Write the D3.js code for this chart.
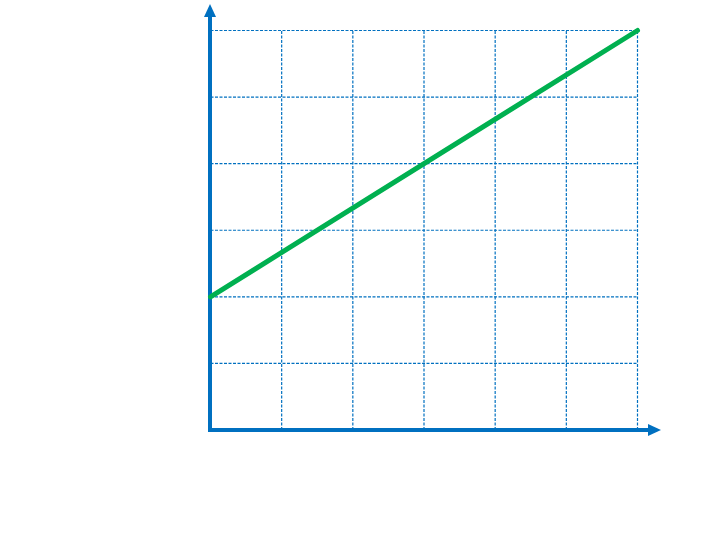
<!DOCTYPE html>
<html>
<head>
<meta charset="utf-8">
<script src="https://cdn.jsdelivr.net/npm/d3@7"></script>
<style>
  body { margin: 0; background: #fff; }
</style>
</head>
<body>
<svg id="chart" width="720" height="540"></svg>
<script>
// grid steps on each axis
const xTicks = [0, 1, 2, 3, 4, 5, 6]
const yTicks = [0, 1, 2, 3, 4, 5, 6]
// the green line
const lineX = [0, 6]
const lineY = [2, 6]

const blue = "#0070C0"
const green = "#00B050"

const svg = d3.select("#chart")

const x = d3.scaleLinear().domain([0, 6]).range([210.5, 637.5])
const y = d3.scaleLinear().domain([0, 6]).range([430, 30.5])

// dashed grid
const grid = svg.append("g")
grid.selectAll(".vgrid")
  .data(xTicks.slice(1))
  .enter()
  .append("line")
  .attr("class", "vgrid")
  .attr("x1", d => x(d)).attr("x2", d => x(d))
  .attr("y1", y(0)).attr("y2", y(6))
  .attr("stroke", blue)
  .attr("stroke-width", 1.2)
  .attr("stroke-dasharray", "3,1.5")

grid.selectAll(".hgrid")
  .data(yTicks.slice(1))
  .enter()
  .append("line")
  .attr("class", "hgrid")
  .attr("x1", x(0)).attr("x2", x(6))
  .attr("y1", d => y(d)).attr("y2", d => y(d))
  .attr("stroke", blue)
  .attr("stroke-width", 1.2)
  .attr("stroke-dasharray", "3,1.5")

// axes with arrowheads
svg.append("line")
  .attr("x1", 208).attr("x2", 649)
  .attr("y1", y(0)).attr("y2", y(0))
  .attr("stroke", blue).attr("stroke-width", 4)
svg.append("path")
  .attr("d", "M648,424 L661,430 L648,436 Z")
  .attr("fill", blue)

svg.append("line")
  .attr("x1", 210).attr("x2", 210)
  .attr("y1", y(0) + 2).attr("y2", 16)
  .attr("stroke", blue).attr("stroke-width", 4)
svg.append("path")
  .attr("d", "M204,17 L210,4 L216,17 Z")
  .attr("fill", blue)

// the data line
const pts = lineX.map((d, i) => [d, lineY[i]])
svg.append("path")
  .datum(pts)
  .attr("d", d3.line().x(d => x(d[0])).y(d => y(d[1])))
  .attr("fill", "none")
  .attr("stroke", green)
  .attr("stroke-width", 5)
  .attr("stroke-linecap", "round")
</script>
</body>
</html>
